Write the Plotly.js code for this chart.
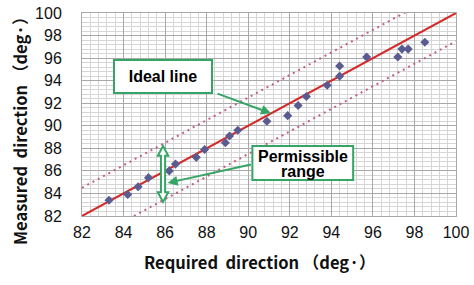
<!DOCTYPE html>
<html><head><meta charset="utf-8">
<script src="https://cdn.plot.ly/plotly-3.0.1.min.js"></script>
<style>html,body{margin:0;padding:0;background:#fff}#chart{width:474px;height:285px}</style>
</head><body><div id="chart"></div>
<script>
// Data
const requiredDir = [83.3, 84.2, 84.7, 85.2, 86.2, 86.5, 87.5, 87.9, 88.9, 89.1, 89.5, 90.9, 91.9, 92.4, 92.8, 93.8, 94.4, 94.4, 95.7, 97.2, 97.4, 97.7, 98.5];
const measuredDir = [83.4, 83.9, 84.6, 85.4, 86.0, 86.6, 87.2, 87.9, 88.5, 89.1, 89.6, 90.4, 90.9, 91.8, 92.6, 93.6, 94.4, 95.3, 96.1, 96.1, 96.8, 96.8, 97.4];
const idealX = [82, 100];
const idealY = [82, 100];
const tolerance = 2.5;
const upperX = [82, 97.7];
const lowerX = [84.5, 100];
const tickVals = [82, 84, 86, 88, 90, 92, 94, 96, 98, 100];
const xTitle = 'Required  direction （deg·）';
const yTitle = 'Measured  direction （deg·）';

const green = '#35a565';
const upperY = upperX.map(v => v + tolerance);
const lowerY = lowerX.map(v => v - tolerance);

// plot geometry in pixels (for placing text outside the axes)
const W = 474, H = 285, ML = 82, MR = 18, MT = 13, MB = 69;
const pw = W - ML - MR, ph = H - MT - MB;
const px2paperX = p => (p - ML) / pw;
const px2paperY = p => (H - MB - p) / ph;

// hollow double arrow (permissible range marker)
const ax0 = 85.9, ayLo = 83.25, ayHi = 88.2;
const hw = 0.25, sw = 0.1, hl = 0.85;
const arrowPath = `M ${ax0} ${ayHi} L ${ax0+hw} ${ayHi-hl} L ${ax0+sw} ${ayHi-hl} L ${ax0+sw} ${ayLo+hl} L ${ax0+hw} ${ayLo+hl} L ${ax0} ${ayLo} L ${ax0-hw} ${ayLo+hl} L ${ax0-sw} ${ayLo+hl} L ${ax0-sw} ${ayHi-hl} L ${ax0-hw} ${ayHi-hl} Z`;

const traces = [
  {x: upperX, y: upperY, mode: 'lines', line: {color: '#c0607e', width: 2, dash: '2px,4px'}, hoverinfo: 'skip', cliponaxis: false},
  {x: lowerX, y: lowerY, mode: 'lines', line: {color: '#c0607e', width: 2, dash: '2px,4px'}, hoverinfo: 'skip'},
  {x: idealX, y: idealY, mode: 'lines', line: {color: '#d42a2a', width: 2}},
  {x: requiredDir, y: measuredDir, mode: 'markers', marker: {symbol: 'diamond', size: 7, color: '#5a5b90'}}
];

const tickFont = {family: 'Liberation Sans, Arial, sans-serif', size: 16, color: '#111'};
const titleFont = {family: 'Noto Sans CJK JP, sans-serif', size: 16.5, color: '#111', weight: 'bold'};
const boxFont = {family: 'Liberation Sans, Arial, sans-serif', size: 16, color: '#000'};
const layout = {
  width: W, height: H,
  margin: {l: ML, r: MR, t: MT, b: MB},
  paper_bgcolor: '#fff', plot_bgcolor: '#fff',
  showlegend: false,
  xaxis: {range: [82, 100], tickvals: tickVals, ticktext: tickVals.map(String), showgrid: true, gridcolor: '#a8a8a8', gridwidth: 1,
          minor: {dtick: 0.4, tick0: 82, showgrid: true, gridcolor: '#d6d6d6', gridwidth: 1},
          showline: true, linecolor: '#a8a8a8', mirror: true, zeroline: false, ticks: '', ticklabelstandoff: 2, tickfont: tickFont, fixedrange: true},
  yaxis: {range: [82, 100], tickvals: tickVals, ticktext: tickVals.map(String), showgrid: true, gridcolor: '#a8a8a8', gridwidth: 1,
          minor: {dtick: 0.4, tick0: 82, showgrid: true, gridcolor: '#d6d6d6', gridwidth: 1},
          showline: true, linecolor: '#a8a8a8', mirror: true, zeroline: false, ticks: '', ticklabelstandoff: 16, tickfont: tickFont, fixedrange: true},
  shapes: [
    {type: 'path', xref: 'x', yref: 'y', path: arrowPath, line: {color: green, width: 2}, fillcolor: '#fff'},
    {type: 'rect', xref: 'x', yref: 'y', x0: 90.2, x1: 95.05, y0: 85.2, y1: 88.2, line: {color: green, width: 2}, fillcolor: '#fff'}
  ],
  annotations: [
    {x: 91.1, y: 91.1, xref: 'x', yref: 'y', ax: 88.45, ay: 92.9, axref: 'x', ayref: 'y', text: '', showarrow: true, arrowhead: 2, arrowsize: 1, arrowwidth: 2, arrowcolor: green},
    {x: 86.12, y: 84.93, xref: 'x', yref: 'y', ax: 90.2, ay: 86.6, axref: 'x', ayref: 'y', text: '', showarrow: true, arrowhead: 2, arrowsize: 1, arrowwidth: 2, arrowcolor: green},
    {x: 85.91, y: 94.41, xref: 'x', yref: 'y', text: '<b>Ideal line</b>', showarrow: false, font: boxFont,
     bgcolor: '#fff', bordercolor: green, borderwidth: 2, borderpad: 0, width: 96, height: 31},
    {x: 92.62, y: 87.3, xref: 'x', yref: 'y', text: '<b>Permissible</b>', showarrow: false, font: boxFont},
    {x: 92.62, y: 85.95, xref: 'x', yref: 'y', text: '<b>range</b>', showarrow: false, font: boxFont},
    {x: px2paperX(259), y: px2paperY(262), xref: 'paper', yref: 'paper', xanchor: 'center', yanchor: 'middle', text: xTitle, showarrow: false, font: titleFont},
    {x: px2paperX(20), y: px2paperY(127), xref: 'paper', yref: 'paper', xanchor: 'center', yanchor: 'middle', text: yTitle, showarrow: false, textangle: -90, font: titleFont}
  ]
};
Plotly.newPlot('chart', traces, layout, {staticPlot: true});
</script></body></html>
